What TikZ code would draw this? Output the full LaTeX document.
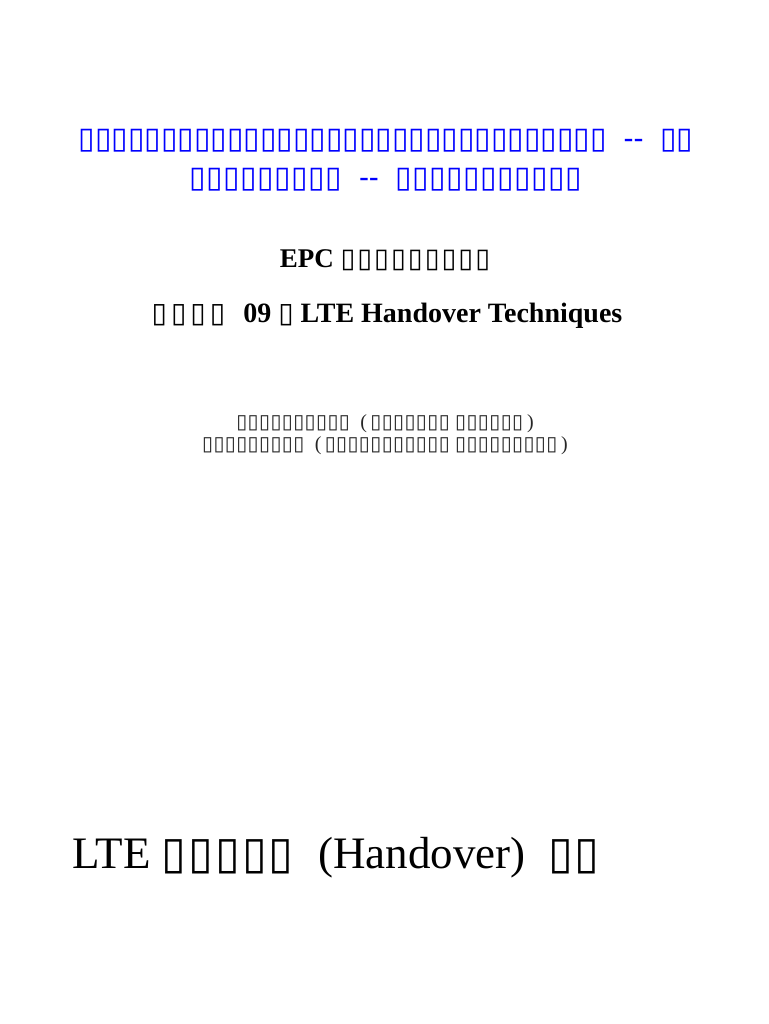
\documentclass[tikz,border=0pt]{standalone}
\usepackage{fontspec}
\setmainfont{Liberation Serif}
\newfontfamily\lsans{Liberation Sans}
\newfontfamily\dv{DejaVu Sans}
\newcommand{\bxk}[2]{{\dv\foreach \i in {1,...,#1}{\char"25AF\kern#2}}}
\begin{document}
\begin{tikzpicture}[x=1pt,y=-1pt]
\useasboundingbox (0,0) rectangle (768,1024);
\tikzset{t/.style={inner sep=0pt,align=center}}
\node[t,text=blue,font=\fontsize{30}{39}\selectfont\lsans] (title) at (386,160) {\bxk{32}{0pt}~~--~~\bxk{2}{0pt}\\ \bxk{9}{0.5pt}~~--~~\bxk{11}{0.5pt}};
\node[t,font=\fontsize{27}{30}\selectfont\bfseries] (epc) at (386,260) {EPC \bxk{9}{2pt}};
\node[t,font=\fontsize{28}{30}\selectfont\bfseries] (ch) at (387,316) {\bxk{4}{4pt}~~09 \bxk{1}{0pt} LTE Handover Techniques};
\node[t,text=black!85,font=\fontsize{20}{22}\selectfont] (auth) at (385,435) {\bxk{10}{0.4pt}~~(\,\bxk{7}{0.4pt} \bxk{6}{0.4pt}\,)\\ \bxk{9}{0.4pt}~~(\,\bxk{11}{0.4pt} \bxk{9}{0.4pt}\,)};
\node[t,anchor=west,font=\fontsize{45}{48}\selectfont] (bot) at (72,858) {LTE \bxk{5}{2pt}~~(Handover)~~\bxk{2}{2pt}};
\end{tikzpicture}
\end{document}
